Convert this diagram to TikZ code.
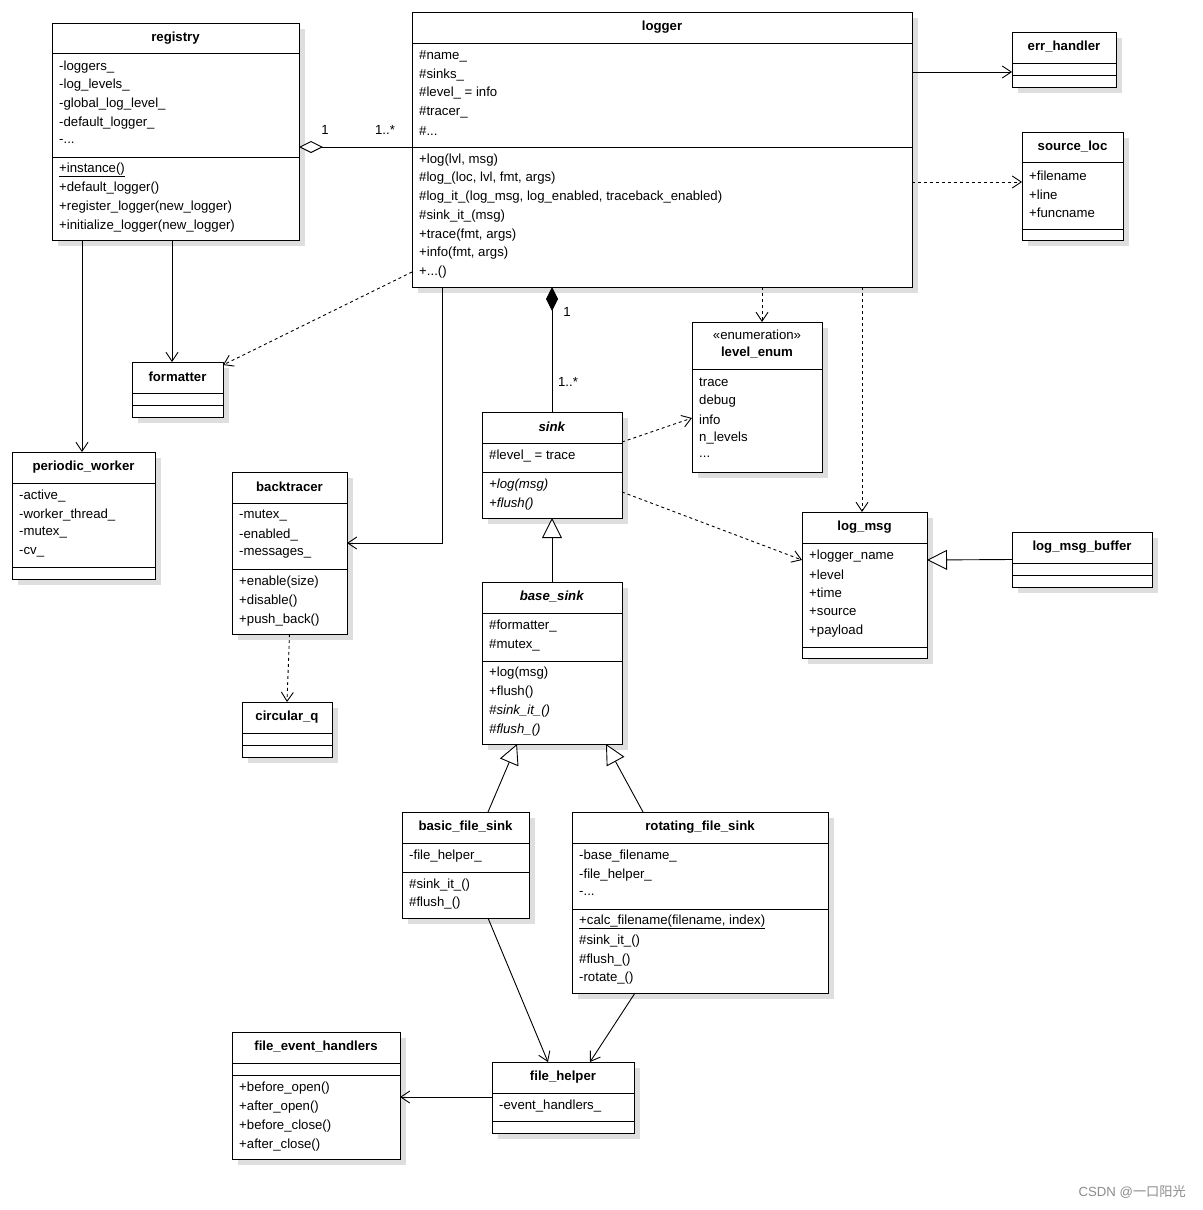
\documentclass[tikz,border=0pt]{standalone}
\usepackage{fontspec}
\setmainfont{Liberation Sans}
\newfontfamily\cjk{Noto Sans CJK SC}
\usetikzlibrary{arrows.meta,shadows,calc}
\newcommand\ddd{...}
\tikzset{
  clsbox/.style={draw,fill=white,inner sep=0pt,outer sep=0pt,anchor=north west,line width=0.9pt,
    drop shadow={shadow xshift=6pt,shadow yshift=-6pt,fill=black!13,opacity=1}},
  txt/.style={anchor=west,inner sep=0pt,font=\fontsize{13.2}{15}\selectfont},
  ttl/.style={anchor=center,inner sep=0pt,font=\fontsize{13.2}{15}\selectfont\bfseries},
  sepl/.style={line width=0.9pt},
  conn/.style={line width=0.9pt},
  dep/.style={conn,dashed,dash pattern=on 3pt off 3pt,-{Straight Barb[length=9pt,width=12pt]}},
  assoc/.style={conn,-{Straight Barb[length=9pt,width=12pt]}},
  inher/.style={conn,-{Triangle[open,length=20pt,width=20pt,fill=white]}},
  lbl/.style={inner sep=0pt,font=\fontsize{13.2}{15}\selectfont},
}
\newcommand\umlcls[6]{%
  \pgfmathsetmacro\ww{#4-#2}\pgfmathsetmacro\hh{#5-#3}%
  \node[clsbox,minimum width=\ww pt,minimum height=\hh pt] (#1) at (#2,#3) {};
  \node[ttl] at ({(#2+#4)/2},#3+15) {#6};}
\newcommand\sepx[3]{\draw[sepl] (#1,#3)--(#2,#3);}
\begin{document}
\begin{tikzpicture}[x=1pt,y=-1pt]
\useasboundingbox[fill=white] (0,0) rectangle (1202,1210);
% registry
\umlcls{registry}{52}{23}{299}{240}{registry}
\sepx{52}{299}{53}\sepx{52}{299}{157}
\foreach \t/\y in {-loggers\_/67,-log\_levels\_/85,-global\_log\_level\_/104,-default\_logger\_/123,-\ddd/141}
  \node[txt] at (59,\y) {\t};
\node[txt] at (59,170) {\underline{+instance()}};
\foreach \t/\y in {+default\_logger()/188,+register\_logger(new\_logger)/207,+initialize\_logger(new\_logger)/226}
  \node[txt] at (59,\y) {\t};
% logger
\umlcls{logger}{412}{12}{912}{287}{logger}
\sepx{412}{912}{43}\sepx{412}{912}{147}
\foreach \t/\y in {\#name\_/56,\#sinks\_/75,\#level\_ = info/93,\#tracer\_/112,\#\ddd/131,
  +log(lvl{,} msg)/160,\#log\_(loc{,} lvl{,} fmt{,} args)/178,
  \#log\_it\_(log\_msg{,} log\_enabled{,} traceback\_enabled)/197,\#sink\_it\_(msg)/216,
  +trace(fmt{,} args)/235,+info(fmt{,} args)/253,+\ddd()/272}
  \node[txt] at (419,\y) {\t};
% err_handler
\umlcls{errh}{1012}{32}{1116}{87}{err\_handler}
\sepx{1012}{1116}{63}\sepx{1012}{1116}{75}
% source_loc
\umlcls{srcloc}{1022}{132}{1123}{240}{source\_loc}
\sepx{1022}{1123}{162}\sepx{1022}{1123}{229}
\foreach \t/\y in {+filename/176,+line/195,+funcname/213}
  \node[txt] at (1029,\y) {\t};
% formatter
\umlcls{formatter}{132}{362}{223}{417}{formatter}
\sepx{132}{223}{393}\sepx{132}{223}{405}
% periodic_worker
\umlcls{pw}{12}{452}{155}{579}{periodic\_worker}
\sepx{12}{155}{483}\sepx{12}{155}{567}
\foreach \t/\y in {-active\_/496,-worker\_thread\_/515,-mutex\_/533,-cv\_/552}
  \node[txt] at (19,\y) {\t};
% backtracer
\umlcls{bt}{232}{472}{347}{634}{backtracer}
\sepx{232}{347}{503}\sepx{232}{347}{569}
\foreach \t/\y in {-mutex\_/516,-enabled\_/535,-messages\_/553,+enable(size)/582,+disable()/601,+push\_back()/620}
  \node[txt] at (239,\y) {\t};
% circular_q
\umlcls{cq}{242}{702}{332}{757}{circular\_q}
\sepx{242}{332}{733}\sepx{242}{332}{745}
% level_enum
\node[clsbox,minimum width=130pt,minimum height=150pt] (lenum) at (692,322) {};
\node[lbl] at (757,335) {«enumeration»};
\node[ttl] at (757,353) {level\_enum};
\sepx{692}{822}{369}
\foreach \t/\y in {trace/382,debug/401,info/420,n\_levels/438,\ddd/457}
  \node[txt] at (699,\y) {\t};
% sink
\umlcls{sink}{482}{412}{622}{518}{\textit{sink}}
\sepx{482}{622}{443}\sepx{482}{622}{472}
\node[txt] at (489,456) {\#level\_ = trace};
\node[txt] at (489,485) {\textit{+log(msg)}};
\node[txt] at (489,504) {\textit{+flush()}};
% log_msg
\umlcls{logmsg}{802}{512}{927}{658}{log\_msg}
\sepx{802}{927}{543}\sepx{802}{927}{647}
\foreach \t/\y in {+logger\_name/556,+level/575,+time/593,+source/612,+payload/631}
  \node[txt] at (809,\y) {\t};
% log_msg_buffer
\umlcls{lmb}{1012}{532}{1152}{587}{log\_msg\_buffer}
\sepx{1012}{1152}{563}\sepx{1012}{1152}{575}
% base_sink
\umlcls{bsink}{482}{582}{622}{744}{\textit{base\_sink}}
\sepx{482}{622}{613}\sepx{482}{622}{661}
\foreach \t/\y in {\#formatter\_/626,\#mutex\_/645,+log(msg)/673,+flush()/692}
  \node[txt] at (489,\y) {\t};
\node[txt] at (489,711) {\textit{\#sink\_it\_()}};
\node[txt] at (489,730) {\textit{\#flush\_()}};
% basic_file_sink
\umlcls{bfs}{402}{812}{529}{918}{basic\_file\_sink}
\sepx{402}{529}{843}\sepx{402}{529}{872}
\foreach \t/\y in {-file\_helper\_/856,\#sink\_it\_()/885,\#flush\_()/903}
  \node[txt] at (409,\y) {\t};
% rotating_file_sink
\umlcls{rfs}{572}{812}{828}{993}{rotating\_file\_sink}
\sepx{572}{828}{843}\sepx{572}{828}{909}
\foreach \t/\y in {-base\_filename\_/856,-file\_helper\_/875,-\ddd/893,\#sink\_it\_()/941,\#flush\_()/960,-rotate\_()/978}
  \node[txt] at (579,\y) {\t};
\node[txt] at (579,922) {\underline{+calc\_filename(filename, index)}};
% file_event_handlers
\umlcls{feh}{232}{1032}{400}{1159}{file\_event\_handlers}
\sepx{232}{400}{1063}\sepx{232}{400}{1075}
\foreach \t/\y in {+before\_open()/1088,+after\_open()/1107,+before\_close()/1126,+after\_close()/1145}
  \node[txt] at (239,\y) {\t};
% file_helper
\umlcls{fh}{492}{1062}{634}{1133}{file\_helper}
\sepx{492}{634}{1093}\sepx{492}{634}{1121}
\node[txt] at (499,1106) {-event\_handlers\_};
% connectors
\draw[conn,{Diamond[open,length=24pt,width=12pt,fill=white]}-] ($(registry.north east)+(0,124)$) -- ($(logger.north west)+(0,135)$);
\node[lbl] at (325,130) {1};
\node[lbl] at (385,130) {1..*};
\draw[assoc] ($(logger.north east)+(0,60)$) -- ($(errh.north west)+(0,40)$);
\draw[dep] ($(logger.north east)+(0,170)$) -- ($(srcloc.north west)+(0,50)$);
\draw[dep] ($(logger.north west)+(0,260)$) -- ($(formatter.north east)+(0,3)$);
\draw[assoc] ($(registry.south west)+(120,0)$) -- ($(formatter.north west)+(40,0)$);
\draw[assoc] ($(registry.south west)+(30,0)$) -- ($(pw.north west)+(70,0)$);
\draw[assoc] ($(logger.south west)+(30,0)$) |- ($(bt.north east)+(0,71)$);
\draw[conn,{Diamond[length=24pt,width=12pt]}-] ($(logger.south west)+(140,0)$) -- ($(sink.north west)+(70,0)$);
\node[lbl] at (567,312) {1};
\node[lbl] at (568,382) {1..*};
\draw[dep] ($(logger.south west)+(350,0)$) -- ($(lenum.north west)+(70,0)$);
\draw[dep] ($(logger.south west)+(450,0)$) -- ($(logmsg.north west)+(60,0)$);
\draw[dep] ($(sink.north east)+(0,30)$) -- ($(lenum.north west)+(0,96)$);
\draw[dep] ($(sink.north east)+(0,80)$) -- ($(logmsg.north west)+(0,48)$);
\draw[inher] (bsink.north) -- (sink.south);
\draw[inher] (lmb.west) -- ($(logmsg.north east)+(0,48)$);
\draw[inher] ($(bfs.north west)+(86,0)$) -- ($(bsink.south west)+(35,0)$);
\draw[inher] ($(rfs.north west)+(71,0)$) -- ($(bsink.south west)+(124,0)$);
\draw[assoc] ($(bfs.south west)+(86,0)$) -- ($(fh.north west)+(56,0)$);
\draw[assoc] ($(rfs.south west)+(63,0)$) -- ($(fh.north west)+(98,0)$);
\draw[assoc] ($(fh.north west)+(0,35)$) -- ($(feh.north east)+(0,65)$);
\draw[dep] (bt.south) -- (cq.north);
\node[lbl,text=black!45,anchor=east] (wm) at (1186,1192) {CSDN @{\cjk 一口阳光}};
\end{tikzpicture}
\end{document}
